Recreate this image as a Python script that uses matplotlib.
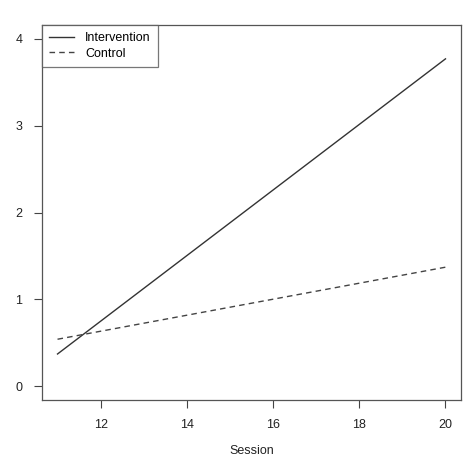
import matplotlib
matplotlib.use("Agg")
import matplotlib.pyplot as plt
import numpy as np

plt.rcParams['font.family'] = ['Liberation Sans', 'DejaVu Sans']

sessions = [11, 20]
intervention = [0.37, 3.77]
control = [0.54, 1.37]
xticks = [12, 14, 16, 18, 20]
yticks = [0, 1, 2, 3, 4]

fig = plt.figure(figsize=(4.74, 4.74), dpi=100)
ax = fig.add_axes([42/474, 74/474, (461-42)/474, (400-25)/474])

ax.plot(sessions, intervention, color='#333333', lw=1.0, label='Intervention')
ax.plot(sessions, control, color='#444444', lw=1.0, ls=(0, (4, 3)), label='Control')

ax.set_xlim(10.64, 20.36)
ax.set_ylim(-0.16, 4.16)
ax.set_xticks(xticks)
ax.set_yticks(yticks)
ax.tick_params(direction='out', length=6, width=0.8, color='#444444',
               labelsize=9, labelcolor='#222222', pad=8)
for s in ax.spines.values():
    s.set_color('#555555')
    s.set_linewidth(0.9)
ax.set_xlabel('Session', fontsize=9, color='#222222', labelpad=10)

leg = ax.legend(loc='upper left', bbox_to_anchor=(0, 1), fontsize=9,
                frameon=True, fancybox=False, borderaxespad=0,
                handlelength=2.0, handletextpad=0.9, borderpad=0.55,
                labelspacing=0.3)
leg.get_frame().set_edgecolor('#555555')
leg.get_frame().set_linewidth(0.9)

fig.savefig('out.png', dpi=100)
